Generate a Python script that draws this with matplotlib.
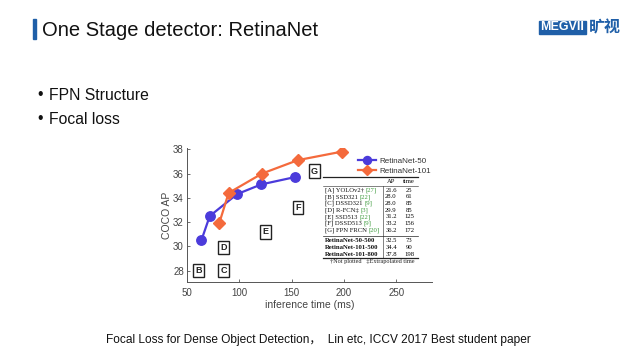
import matplotlib
matplotlib.use("Agg")
import matplotlib.pyplot as plt
from matplotlib.patches import Rectangle

# ── data ──────────────────────────────────────────────────────────────────────
r50_time = [64, 72, 98, 121, 153]
r50_ap = [30.5, 32.5, 34.3, 35.1, 35.7]
r101_time = [81, 90, 122, 156, 198]
r101_ap = [31.9, 34.4, 36.0, 37.1, 37.8]

other_tags = ["B", "C", "D", "E", "F", "G"]
other_time = [61, 85, 85, 125, 156, 172]
other_ap = [28.0, 28.0, 29.9, 31.2, 33.2, 36.2]

tbl_names = ["[A] YOLOv2\u2020", "[B] SSD321", "[C] DSSD321", "[D] R-FCN\u2021",
             "[E] SSD513", "[F] DSSD513", "[G] FPN FRCN"]
tbl_refs = ["[27]", "[22]", "[9]", "[3]", "[22]", "[9]", "[20]"]
tbl_ap = ["21.6", "28.0", "28.0", "29.9", "31.2", "33.2", "36.2"]
tbl_time = ["25", "61", "85", "85", "125", "156", "172"]
ret_names = ["RetinaNet-50-500", "RetinaNet-101-500", "RetinaNet-101-800"]
ret_ap = ["32.5", "34.4", "37.8"]
ret_time = ["73", "90", "198"]

bullets = ["FPN Structure", "Focal loss"]

W, H = 638, 359
BLUE_BAR = "#1F5FA8"
C50 = "#4B3BDB"
C101 = "#F46A3C"
GREEN = "#3C9A3C"

plt.rcParams["font.family"] = ["Liberation Sans", "Noto Sans CJK SC", "DejaVu Sans"]

fig = plt.figure(figsize=(W / 100, H / 100), dpi=100)
fig.patch.set_facecolor("white")


def fx(x):
    return x / W


def fy(y):
    return 1 - y / H


def hline(x0, x1, y, lw):
    fig.add_artist(plt.Line2D([fx(x0), fx(x1)], [fy(y), fy(y)], lw=lw,
                              color="#222222", transform=fig.transFigure))


# ── slide header ──────────────────────────────────────────────────────────────
fig.add_artist(Rectangle((fx(33), fy(39)), 3 / W, 20 / H, transform=fig.transFigure,
                         color=BLUE_BAR))
fig.text(fx(42), fy(30.5), "One Stage detector: RetinaNet", fontsize=14.5,
         va="center", ha="left", color="#111111")

fig.add_artist(Rectangle((fx(539), fy(34)), 47 / W, 13 / H, transform=fig.transFigure,
                         color=BLUE_BAR))
fig.text(fx(562.5), fy(27.5), "MEGVII", fontsize=9, fontweight="bold", color="white",
         ha="center", va="center")
fig.text(fx(605), fy(27), "旷视", fontsize=11.5, fontweight="bold", color=BLUE_BAR,
         ha="center", va="center", family=["Noto Sans CJK SC"])

for i, b in enumerate(bullets):
    y = 95 + 24 * i
    fig.text(fx(37), fy(y), "\u2022", fontsize=11.3, va="center", ha="left", color="#111111")
    fig.text(fx(49), fy(y), b, fontsize=11.3, va="center", ha="left", color="#111111")

fig.text(fx(318.5), fy(340.5), "Focal Loss for Dense Object Detection，  Lin etc, ICCV 2017 Best student paper",
         fontsize=8.6, ha="center", va="center", color="#111111",
         family=["Liberation Sans", "Noto Sans CJK SC"])

# ── chart ─────────────────────────────────────────────────────────────────────
ax = fig.add_axes([fx(186.7), fy(282), (432 - 186.7) / W, (282 - 148) / H])
ax.plot(r50_time, r50_ap, color=C50, lw=1.6, marker="o", ms=6.8, zorder=3,
        label="RetinaNet-50")
ax.plot(r101_time, r101_ap, color=C101, lw=1.6, marker="D", ms=6.0, zorder=3,
        label="RetinaNet-101")

for t, x, y in zip(other_tags, other_time, other_ap):
    ax.text(x, y, t, fontsize=6.5, fontweight="bold", ha="center", va="center",
            color="#222222",
            bbox=dict(boxstyle="square,pad=0.25", fc="white", ec="#222222", lw=1.0))

ax.set_xlim(50, 284)
ax.set_ylim(27.07, 38.1)
ax.set_xticks([50, 100, 150, 200, 250])
ax.set_yticks([28, 30, 32, 34, 36, 38])
for s in ("top", "right"):
    ax.spines[s].set_visible(False)
for s in ("left", "bottom"):
    ax.spines[s].set_color("#555555")
    ax.spines[s].set_linewidth(0.7)
ax.tick_params(direction="in", length=2.5, width=0.6, colors="#555555",
               labelsize=7, labelcolor="#444444")
ax.tick_params(axis="y", pad=2)
ax.tick_params(axis="x", pad=4)
ax.set_xlabel("inference time (ms)", fontsize=7.5, color="#444444", labelpad=2)
ax.set_ylabel("COCO AP", fontsize=7.5, color="#444444", labelpad=1)
ax.patch.set_alpha(0)

leg = ax.legend(loc="upper left", bbox_to_anchor=((355 - 186.7) / (432 - 186.7), 0.955),
                frameon=False, fontsize=5.8, handlelength=2.2, handletextpad=0.4,
                labelspacing=0.25, borderaxespad=0, markerscale=0.85)
for t in leg.get_texts():
    t.set_color("#333333")

# ── inset table (serif, tiny) ─────────────────────────────────────────────────
serif = ["Liberation Serif", "DejaVu Serif"]
fs = 4.8
x_lab, x_vline, x_ap, x_time = 325, 383, 391, 409

hline(323, 418, 176.5, 0.9)
hline(323, 418, 185.5, 0.4)
hline(323, 418, 235.5, 0.5)
hline(323, 418, 257.5, 0.9)
fig.add_artist(plt.Line2D([fx(x_vline), fx(x_vline)], [fy(185.5), fy(257.5)], lw=0.4,
                          color="#222222", transform=fig.transFigure))

fig.text(fx(x_ap), fy(181), "AP", fontsize=fs, family=serif, ha="center", va="center")
fig.text(fx(x_time), fy(181), "time", fontsize=fs, family=serif, ha="center", va="center")

for i in range(len(tbl_names)):
    y = 190 + 6.75 * i
    t = fig.text(fx(x_lab), fy(y), tbl_names[i], fontsize=fs, family=serif,
                 ha="left", va="center", color="#111111")
    ax.annotate(tbl_refs[i], xy=(1, 0.5), xycoords=t,
                xytext=(1.2, 0), textcoords="offset points",
                fontsize=fs, family=serif, color=GREEN,
                ha="left", va="center", annotation_clip=False)
    fig.text(fx(x_ap), fy(y), tbl_ap[i], fontsize=fs, family=serif, ha="center", va="center")
    fig.text(fx(x_time), fy(y), tbl_time[i], fontsize=fs, family=serif, ha="center", va="center")

for i in range(len(ret_names)):
    y = 240.5 + 6.75 * i
    fig.text(fx(x_lab), fy(y), ret_names[i], fontsize=fs, family=serif, fontweight="bold",
             ha="left", va="center", color="#111111")
    fig.text(fx(x_ap), fy(y), ret_ap[i], fontsize=fs, family=serif, ha="center", va="center")
    fig.text(fx(x_time), fy(y), ret_time[i], fontsize=fs, family=serif, ha="center", va="center")

fig.text(fx(372), fy(262), "\u2020Not plotted   \u2021Extrapolated time", fontsize=fs - 0.3,
         family=serif, ha="center", va="center", color="#222222")

fig.savefig("out.png", dpi=100, facecolor=fig.get_facecolor())
